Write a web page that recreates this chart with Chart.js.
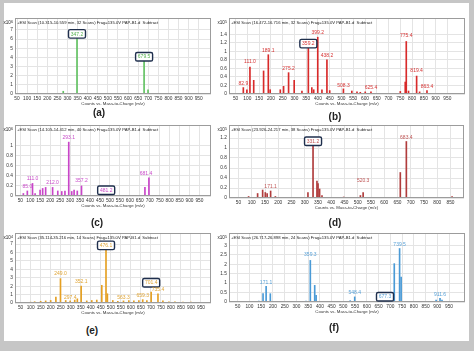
<!DOCTYPE html>
<html><head><meta charset="utf-8">
<script src="https://cdn.jsdelivr.net/npm/chart.js@4.4.1/dist/chart.umd.min.js"></script>
<style>
html,body{margin:0;padding:0;}
body{width:474px;height:351px;background:#c6c6c6;position:relative;overflow:hidden;font-family:"Liberation Sans",Arial,sans-serif;}
#sheet{position:absolute;left:4px;top:3px;width:465px;height:338px;background:#fff;}
canvas{position:absolute;}
.plab{position:absolute;font-size:10px;font-weight:bold;color:#222;transform:translate(-50%,-50%);white-space:nowrap;}
</style></head><body>
<div id="sheet"></div>
<canvas id="ca"></canvas><canvas id="cb"></canvas>
<canvas id="cc"></canvas><canvas id="cd"></canvas>
<canvas id="ce"></canvas><canvas id="cf"></canvas>
<div class="plab" style="left:99px;top:112px">(a)</div>
<div class="plab" style="left:335px;top:116px">(b)</div>
<div class="plab" style="left:97px;top:222px">(c)</div>
<div class="plab" style="left:335px;top:222px">(d)</div>
<div class="plab" style="left:92px;top:330px">(e)</div>
<div class="plab" style="left:334px;top:327px">(f)</div>
<script>
const FF = '"Liberation Sans", Arial, sans-serif';
const xTicks = [50,100,150,200,250,300,350,400,450,500,550,600,650,700,750,800,850,900,950];
const xTicksD = [50,100,150,200,250,300,350,400,450,500,550,600,650,700,750,800,850];
const xTitle = 'Counts vs. Mass-to-Charge (m/z)';

// (a)
const aMz  = [279, 347.2, 679.5, 699];
const aInt = [0.3, 6.1, 3.6, 0.45];
const aLabText = ['347.2','679.5'];
const aLabH    = [6.1, 3.6];
const aLabBox  = [true, true];
const aYTicks  = [0,1,2,3,4,5,6,7];

// (b)
const bMz  = [82.9, 98, 111.0, 127, 169, 189.1, 197, 240, 254, 275.2, 299, 332, 359.2, 374, 382, 399.2, 417, 438.2, 450, 508.3, 544, 566, 580, 601, 625.4, 750, 771, 775.4, 785, 819.4, 832, 863.4];
const bInt = [0.15, 0.1, 0.63, 0.32, 0.54, 0.92, 0.1, 0.1, 0.18, 0.5, 0.32, 0.07, 1.11, 0.15, 0.1, 1.33, 0.1, 0.8, 0.08, 0.12, 0.07, 0.05, 0.04, 0.05, 0.05, 0.06, 0.28, 1.23, 0.07, 0.42, 0.05, 0.08];
const bLabText = ['82.9','111.0','189.1','275.2','359.2','399.2','438.2','508.3','625.4','775.4','819.4','863.4'];
const bLabH    = [0.19, 0.7, 0.96, 0.53, 1.08, 1.39, 0.85, 0.14, 0.09, 1.3, 0.48, 0.12];
const bLabBox  = [false,false,false,false,true,false,false,false,false,false,false,false];
const bYTicks  = [0,0.2,0.4,0.6,0.8,1,1.2,1.4];

// (c)
const cMz  = [65, 85.0, 111.0, 124, 149, 162, 177, 212.0, 238, 258, 274, 293.1, 308, 320, 336, 357.2, 481.2, 676, 696];
const cInt = [0.05, 0.1, 0.25, 0.05, 0.12, 0.15, 0.17, 0.17, 0.1, 0.09, 0.1, 1.07, 0.09, 0.12, 0.1, 0.2, 0.08, 0.17, 0.36];
const cLabText = ['85.0','111.0','212.0','293.1','357.2','481.2','681.4'];
const cLabH    = [0.14, 0.3, 0.21, 1.1, 0.26, 0.03, 0.4];
const cLabBox  = [false,false,false,false,false,true,false];
const cYTicks  = [0,0.2,0.4,0.6,0.8,1];

// (d)
const dMz  = [88, 122, 141, 151, 158, 171.1, 189, 312, 331.2, 346, 350, 356, 365, 447, 510, 520.3, 660.6, 683.4, 856];
const dInt = [0.03, 0.09, 0.16, 0.11, 0.09, 0.14, 0.03, 0.11, 1.16, 0.34, 0.29, 0.18, 0.05, 0.02, 0.05, 0.11, 0.51, 1.13, 0.03];
const dLabText = ['171.1','331.2','520.3','683.4'];
const dLabH    = [0.18, 1.05, 0.3, 1.15];
const dLabBox  = [false,true,false,false];
const dYTicks  = [0,0.2,0.4,0.6,0.8,1,1.2];

// (e)
const eMz  = [100, 120, 150, 175, 200, 226, 249.0, 275, 297.4, 320, 333, 352.1, 380, 405, 430, 455, 476.1, 483, 510, 535, 563.3, 590, 615, 640, 659.3, 680, 701.4, 735.4, 760, 790, 820, 860, 900];
const eInt = [0.1, 0.15, 0.2, 0.25, 0.3, 0.7, 2.9, 0.3, 0.25, 0.35, 0.5, 2.0, 0.25, 0.3, 0.35, 2.1, 6.3, 1.1, 0.3, 0.2, 0.25, 0.3, 0.25, 0.3, 0.4, 0.3, 1.3, 1.1, 0.25, 0.15, 0.15, 0.1, 0.1];
const eLabText = ['249.0','297.4','352.1','476.1','563.3','659.3','701.4','735.4'];
const eLabH    = [3.2, 0.4, 2.3, 6.35, 0.4, 0.55, 1.9, 1.27];
const eLabBox  = [false,false,false,true,false,false,true,false];
const eYTicks  = [0,1,2,3,4,5,6,7];

// (f)
const fMz  = [140, 158, 171.1, 189, 341, 359.3, 378, 384, 529, 548.4, 677.3, 716.8, 739.5, 746, 895, 911.6, 920];
const fInt = [0.05, 0.44, 0.83, 0.44, 0.05, 2.2, 0.88, 0.35, 0.07, 0.27, 0.1, 2.03, 2.83, 1.32, 0.1, 0.2, 0.1];
const fLabText = ['171.1','359.3','548.4','677.3','739.5','911.6'];
const fLabH    = [0.9, 2.36, 0.37, 0.05, 2.9, 0.25];
const fLabBox  = [false,false,false,true,false,false];
const fYTicks  = [0,0.5,1,1.5,2,2.5,3];

const panels = [
 {id:'ca', area:[15,18,211,94],  xMin:40, xMax:1011, yMax:8.3,  xT:xTicks,  yT:aYTicks, exp:'6', mz:aMz, val:aInt, lt:aLabText, lh:aLabH, lb:aLabBox, color:'#62c262', tcolor:'#55b050',
  title:'+ESI Scan (10.315-10.559 min, 32 Scans) Frag=135.0V PAP-B1.d  Subtract'},
 {id:'cb', area:[229,18,465,94], xMin:22, xMax:1025, yMax:1.78, xT:xTicks,  yT:bYTicks, exp:'5', mz:bMz, val:bInt, lt:bLabText, lh:bLabH, lb:bLabBox, color:'#d82a2a', tcolor:'#d63434',
  title:'+ESI Scan (16.472-16.716 min, 32 Scans) Frag=135.0V PAP-B1.d  Subtract'},
 {id:'cc', area:[15,125,211,196], xMin:23, xMax:1008, yMax:1.41, xT:xTicks, yT:cYTicks, exp:'6', mz:cMz, val:cInt, lt:cLabText, lh:cLabH, lb:cLabBox, color:'#c945c9', tcolor:'#c84ac8',
  title:'+ESI Scan (14.105-14.412 min, 40 Scans) Frag=135.0V PAP-B1.d  Subtract'},
 {id:'cd', area:[229,125,464,198], xMin:14, xMax:901, yMax:1.46, xT:xTicksD, yT:dYTicks, exp:'5', mz:dMz, val:dInt, lt:dLabText, lh:dLabH, lb:dLabBox, color:'#b03c3c', tcolor:'#c05656',
  title:'+ESI Scan (23.926-24.217 min, 38 Scans) Frag=135.0V PAP-B1.d  Subtract'},
 {id:'ce', area:[15,233,211,303], xMin:22, xMax:1000, yMax:8.33, xT:xTicks, yT:eYTicks, exp:'4', mz:eMz, val:eInt, lt:eLabText, lh:eLabH, lb:eLabBox, color:'#e5a022', tcolor:'#e0a535',
  title:'+ESI Scan (35.114-35.216 min, 14 Scans) Frag=135.0V PAP-B1.d  Subtract'},
 {id:'cf', area:[229,233,465,302], xMin:13, xMax:1018, yMax:3.65, xT:xTicks, yT:fYTicks, exp:'5', mz:fMz, val:fInt, lt:fLabText, lh:fLabH, lb:fLabBox, color:'#4a9ad6', tcolor:'#5aa2d8',
  title:'+ESI Scan (26.717-26.898 min, 24 Scans) Frag=135.0V PAP-B1.d  Subtract'}
];

function fmt(v){ return String(Math.round(v*10)/10); }

function decor(p){
  return {
    id:'decor'+p.id,
    afterDatasetsDraw(chart){
      const ctx = chart.ctx, a = chart.chartArea, xs = chart.scales.x, ys = chart.scales.y;
      ctx.save();
      ctx.strokeStyle = '#9c9c9c'; ctx.lineWidth = 1;
      ctx.strokeRect(Math.round(a.left)+0.5, Math.round(a.top)+0.5, Math.round(a.right-a.left)-1, Math.round(a.bottom-a.top)-1);
      // header
      ctx.fillStyle = '#222'; ctx.font = '4.2px ' + FF; ctx.textAlign = 'left'; ctx.textBaseline = 'middle';
      ctx.fillText(p.title, a.left + 2, a.top + 4.5);
      // exponent
      ctx.font = '4.6px ' + FF; ctx.textAlign = 'right';
      ctx.fillText('x10', a.left - 4.2, a.top + 5.2);
      ctx.font = '3.6px ' + FF; ctx.textAlign = 'left';
      ctx.fillText(p.exp, a.left - 4, a.top + 3.6);
      // peak labels
      ctx.font = '5px ' + FF; ctx.textAlign = 'center';
      p.lt.forEach((t, i) => {
        const px = xs.getPixelForValue(parseFloat(t));
        const py = ys.getPixelForValue(p.lh[i]);
        if (p.lb[i]) {
          const w = ctx.measureText(t).width + 4.5, h = 8.5;
          const x0 = px - w/2, y0 = py - h;
          ctx.beginPath();
          ctx.roundRect(x0, y0, w, h, 1.6);
          ctx.fillStyle = '#fff'; ctx.fill();
          ctx.strokeStyle = '#1f2f4d'; ctx.lineWidth = 1.4; ctx.stroke();
          ctx.fillStyle = p.tcolor; ctx.textBaseline = 'middle';
          ctx.fillText(t, px, y0 + h/2 + 0.3);
        } else {
          ctx.fillStyle = p.tcolor; ctx.textBaseline = 'bottom';
          ctx.fillText(t, px, py);
        }
      });
      ctx.restore();
    }
  };
}

function makeChart(p){
  const [L,T,R,B] = p.area;
  const cv = document.getElementById(p.id);
  const cw = (R-L) + 13 + 6, ch = (B-T) + 6 + 14;
  cv.style.left = (L-13) + 'px'; cv.style.top = (T-6) + 'px';
  cv.width = cw; cv.height = ch; cv.style.width = cw + 'px'; cv.style.height = ch + 'px';
  new Chart(cv, {
    type: 'bar',
    data: { datasets: [{ data: p.mz.map((m,i) => ({x:m, y:p.val[i]})), backgroundColor: p.color, borderWidth: 0, barThickness: 1 }] },
    options: {
      responsive: false, maintainAspectRatio: false, animation: false, devicePixelRatio: 1,
      layout: { padding: { top: 6, right: 6, left: 0, bottom: 0 } },
      plugins: { legend: { display: false }, tooltip: { enabled: false } },
      scales: {
        x: {
          type: 'linear', min: p.xMin, max: p.xMax, offset: false,
          afterBuildTicks: ax => { ax.ticks = p.xT.map(v => ({value: v})); },
          afterFit: ax => { ax.height = 14; },
          ticks: { font: { size: 4.8, family: FF }, color: '#333', padding: 2, maxRotation: 0, minRotation: 0, autoSkip: false, callback: v => String(v) },
          grid: { color: '#e4e4e4', drawTicks: false, offset: false, lineWidth: 1 },
          border: { display: false },
          title: { display: true, text: xTitle, font: { size: 4.3, family: FF }, color: '#333', padding: { top: 0, bottom: 2 } }
        },
        y: {
          min: 0, max: p.yMax,
          afterBuildTicks: ax => { ax.ticks = p.yT.map(v => ({value: v})); },
          afterFit: ax => { ax.width = 13; },
          ticks: { font: { size: 4.8, family: FF }, color: '#333', padding: 2, callback: v => fmt(v) },
          grid: { color: '#e4e4e4', drawTicks: false, lineWidth: 1 },
          border: { display: false }
        }
      }
    },
    plugins: [decor(p)]
  });
}
panels.forEach(makeChart);
</script>
</body></html>
